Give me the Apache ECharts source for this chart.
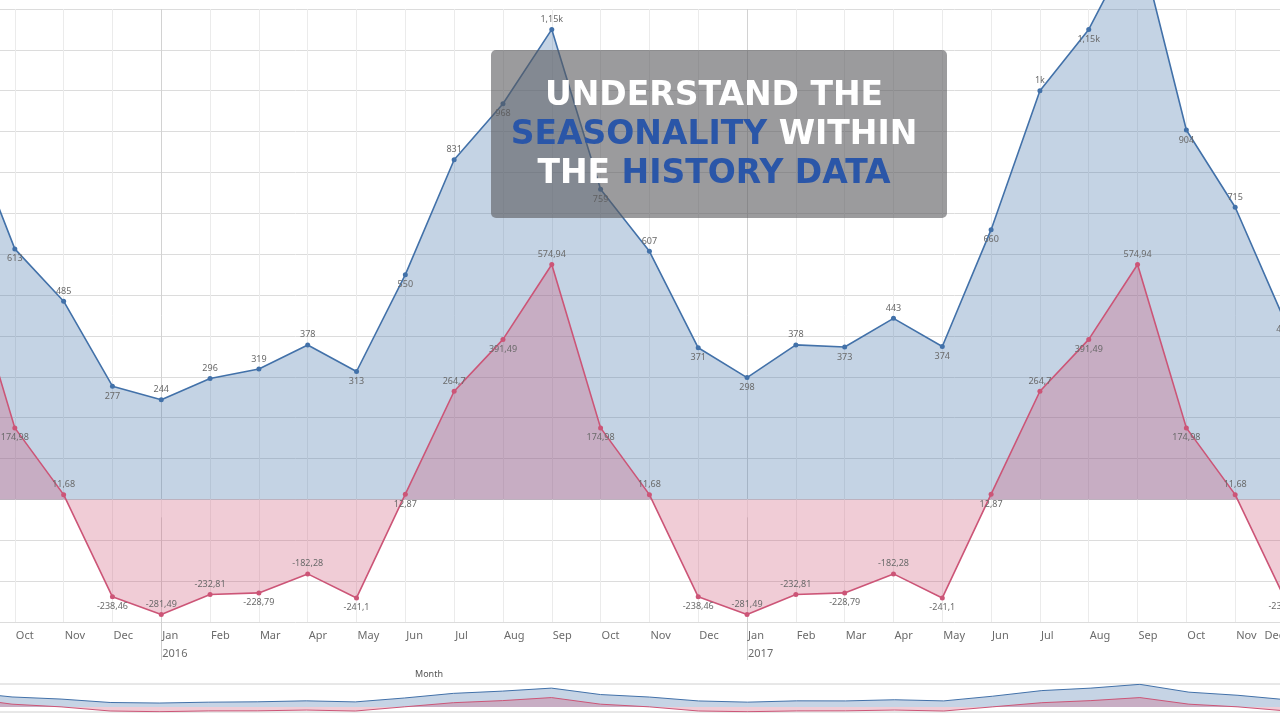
<!DOCTYPE html>
<html>
<head>
<meta charset="utf-8">
<script src="https://cdn.jsdelivr.net/npm/echarts@6/dist/echarts.min.js"></script>
<style>
html,body{margin:0;padding:0;background:#fff;overflow:hidden;width:1280px;height:720px}
/* the plot runs a little past both window edges, like the zoomed-in original */
#chart{position:absolute;left:-37px;top:0;width:1324px;height:720px}
</style>
</head>
<body>
<div id="chart"></div>
<script>
// Sep 2015 .. Dec 2017
const months = ['Sep','Oct','Nov','Dec','Jan','Feb','Mar','Apr','May','Jun','Jul','Aug',
  'Sep','Oct','Nov','Dec','Jan','Feb','Mar','Apr','May','Jun','Jul','Aug','Sep','Oct','Nov','Dec'];
const years = [2015,2015,2015,2015,2016,2016,2016,2016,2016,2016,2016,2016,
  2016,2016,2016,2016,2017,2017,2017,2017,2017,2017,2017,2017,2017,2017,2017,2017];
const history = [920,613,485,277,244,296,319,378,313,550,831,968,
  1150,759,607,371,298,378,373,443,374,660,1000,1150,1380,904,715,441];
const seasonality = [574.94,174.98,11.68,-238.46,-281.49,-232.81,-228.79,-182.28,-241.1,12.87,264.7,391.49,
  574.94,174.98,11.68,-238.46,-281.49,-232.81,-228.79,-182.28,-241.1,12.87,264.7,391.49,
  574.94,174.98,11.68,-238.46];

// where the value labels sit (above / below the point)
const historyLabelPos = ['top','bottom','top','bottom','top','top','top','top','bottom','bottom','top','bottom',
  'top','bottom','top','bottom','bottom','top','bottom','top','bottom','bottom','top','bottom','top','bottom','top','bottom'];
const seasonLabelPos = ['top','bottom','top','bottom','top','top','bottom','top','bottom','bottom','top','bottom',
  'top','bottom','top','bottom','top','top','bottom','top','bottom','bottom','top','bottom','top','bottom','top','bottom'];

const categories = months.map((m, i) => m + ' ' + years[i]);
const isJan = (i) => months[i] === 'Jan';

const BLUE = '#4271a9';
const RED = '#cc5577';
const OFF = 37; // div is shifted left by this much

const fmtHistory = (v) => v >= 1000 ? String(v / 1000).replace('.', ',') + 'k' : String(v);
const fmtSeason = (v) => String(v).replace('.', ',');

const chart = echarts.init(document.getElementById('chart'), null, { renderer: 'canvas' });

const option = {
  animation: false,
  backgroundColor: '#fff',
  grid: [
    { left: 0, right: 0, top: 9, bottom: 98 },
    { left: 0, right: 0, top: 684, height: 28, show: true, borderColor: '#d0d0d0', borderWidth: 1 }
  ],
  xAxis: [
    {
      type: 'category', gridIndex: 0, data: categories, boundaryGap: false,
      axisLine: { lineStyle: { color: '#d0d0d0' } },
      axisTick: { show: true, interval: 0, length: 18, lineStyle: { color: '#ededed' } },
      splitLine: { show: true, interval: 0, lineStyle: { color: '#ebebeb' } },
      axisLabel: {
        interval: 0, align: 'left', margin: 5, padding: [0, 0, 0, 1],
        color: '#6b6b6b', fontSize: 11, fontFamily: 'Noto Sans', lineHeight: 18,
        verticalAlign: 'top', alignMaxLabel: 'right',
        formatter: (val, i) => months[i] + (isJan(i) ? '\n' + years[i] : '')
      }
    },
    {
      type: 'category', gridIndex: 0, data: categories, boundaryGap: false, position: 'bottom',
      axisLine: { show: false },
      axisLabel: { show: false },
      axisTick: { show: true, interval: (i) => isJan(i), length: 38, lineStyle: { color: '#cfcfcf' } },
      splitLine: { show: true, interval: (i) => isJan(i), lineStyle: { color: '#d2d2d2' } }
    },
    {
      type: 'category', gridIndex: 1, data: categories, boundaryGap: false, show: false
    }
  ],
  yAxis: [
    {
      type: 'value', gridIndex: 0, min: -300, max: 1200, interval: 100,
      axisLine: { show: false }, axisTick: { show: false }, axisLabel: { show: false },
      splitLine: { lineStyle: { color: '#dcdcdc' } }
    },
    {
      type: 'value', gridIndex: 1, min: -300, max: 1400, show: false, splitLine: { show: false }
    }
  ],
  series: [
    {
      name: 'History', type: 'line', xAxisIndex: 0, yAxisIndex: 0, clip: false,
      data: history.map((v, i) => ({ value: v, label: { position: historyLabelPos[i] } })),
      symbol: 'circle', symbolSize: 5,
      itemStyle: { color: BLUE },
      lineStyle: { color: BLUE, width: 1.6 },
      areaStyle: { color: BLUE, opacity: 0.31 },
      label: {
        show: true, distance: 3, color: '#6a6a6a', fontSize: 9, fontFamily: 'Noto Sans',
        formatter: (p) => fmtHistory(p.value)
      },
      z: 2
    },
    {
      name: 'Seasonality', type: 'line', xAxisIndex: 0, yAxisIndex: 0, clip: false,
      data: seasonality.map((v, i) => ({ value: v, label: { position: seasonLabelPos[i] } })),
      symbol: 'circle', symbolSize: 5,
      itemStyle: { color: RED },
      lineStyle: { color: RED, width: 1.6 },
      areaStyle: { color: RED, opacity: 0.3 },
      label: {
        show: true, distance: 3, color: '#6a6a6a', fontSize: 9, fontFamily: 'Noto Sans',
        formatter: (p) => fmtSeason(p.value)
      },
      z: 3
    },
    {
      type: 'line', xAxisIndex: 2, yAxisIndex: 1, data: history, symbol: 'none',
      lineStyle: { color: BLUE, width: 1 }, areaStyle: { color: BLUE, opacity: 0.3 }, silent: true
    },
    {
      type: 'line', xAxisIndex: 2, yAxisIndex: 1, data: seasonality, symbol: 'none',
      lineStyle: { color: RED, width: 1 }, areaStyle: { color: RED, opacity: 0.3 }, silent: true
    }
  ],
  graphic: [
    {
      type: 'text', left: 415 + OFF, top: 670, z: 10,
      style: { text: 'Month', fill: '#555', font: '9px "Noto Sans"' }
    },
    {
      type: 'rect', z: 20,
      shape: { x: 491 + OFF, y: 50, width: 456, height: 168, r: 5 },
      style: { fill: 'rgba(88,88,92,0.6)' }
    },
    {
      type: 'text', z: 21, x: 714 + OFF, y: 135,
      style: {
        text: '{w|UNDERSTAND THE}\n{b|SEASONALITY} {w|WITHIN}\n{w|THE} {b|HISTORY DATA}',
        align: 'center', verticalAlign: 'middle',
        fontFamily: 'DejaVu Sans', fontWeight: 'bold', fontSize: 33,
        rich: {
          w: { fill: '#ffffff', fontFamily: 'DejaVu Sans', fontWeight: 'bold', fontSize: 33, lineHeight: 39 },
          b: { fill: '#2a56a8', fontFamily: 'DejaVu Sans', fontWeight: 'bold', fontSize: 33, lineHeight: 39 }
        }
      }
    }
  ]
};

chart.setOption(option);
</script>
</body>
</html>
